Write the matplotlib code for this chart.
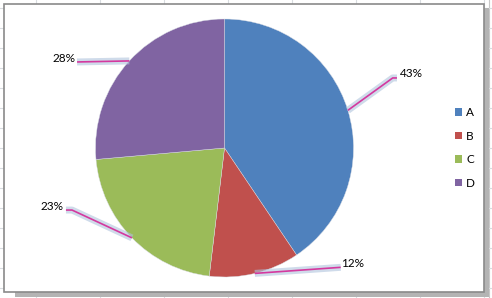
import numpy as np
import matplotlib
matplotlib.use("Agg")
import matplotlib.pyplot as plt
import matplotlib.patheffects as pe
from matplotlib.patches import Rectangle

# ---- data ----
categories = ["A", "B", "C", "D"]
values = [43, 12, 23, 28]
labels = [f"{v}%" for v in values]
colors = ["#4F81BD", "#C0504D", "#9BBB59", "#8064A2"]

# ---- layout (label anchor positions in pie-radius units) ----
# each: (elbow point, end point, text point, ha)
label_layout = [
    ((1.304, 0.543), (1.337, 0.543), (1.36, 0.575), "left"),
    ((0.901, -0.925), (0.901, -0.925), (0.905, -0.895), "left"),
    ((-1.182, -0.481), (-1.229, -0.481), (-1.245, -0.452), "right"),
    ((-1.143, 0.667), (-1.143, 0.667), (-1.152, 0.69), "right"),
]

W, H = 492, 298
fig = plt.figure(figsize=(W / 100, H / 100), dpi=100)
fig.patch.set_facecolor("white")

# background: spreadsheet grid, chart border and shadow
bg = fig.add_axes([0, 0, 1, 1])
bg.set_xlim(0, W)
bg.set_ylim(H, 0)
bg.axis("off")
grid_c = "#D9DCE0"
for x in range(36, W + 1, 64):
    bg.plot([x, x], [0, H], color=grid_c, lw=0.8, zorder=0)
bg.plot([489, 489], [0, H], color="#C8C8C8", lw=0.8, zorder=0)
for y in range(8, H + 1, 20):
    bg.plot([0, W], [y, y], color=grid_c, lw=0.8, zorder=0)
bg.add_patch(Rectangle((15, 8), 474, 289, facecolor="#B4B4B4", edgecolor="none", zorder=1))
bg.add_patch(Rectangle((4, 4), 480, 288, facecolor="white", edgecolor="#8A8A8A", lw=1.2, zorder=2))

# pie axes: centre (224.5, 148) px from top-left, radius 129 px
cx, cy, r = 224.5, 148, 129
ax = fig.add_axes([(cx - r) / W, (H - cy - r) / H, 2 * r / W, 2 * r / H])
wedges, _ = ax.pie(values, colors=colors, startangle=90, counterclock=False,
                   wedgeprops=dict(linewidth=0.3, edgecolor="#D8DCE4"))
ax.set_xlim(-1, 1)
ax.set_ylim(-1, 1)
ax.set_clip_on(False)

font = ["Lato", "DejaVu Sans"]
line_c = "#D4399F"
glow = [pe.Stroke(linewidth=5, foreground="#AFC3DD", alpha=0.6), pe.Normal()]
for w, lab, (elbow, end, tpos, ha) in zip(wedges, labels, label_layout):
    mid = np.deg2rad((w.theta1 + w.theta2) / 2)
    sx, sy = np.cos(mid), np.sin(mid)
    ax.plot([sx, elbow[0], end[0]], [sy, elbow[1], end[1]], color=line_c, lw=1.2,
            solid_capstyle="butt", path_effects=glow, clip_on=False, zorder=5)
    ax.text(tpos[0], tpos[1], lab, ha=ha, va="center", fontsize=8.5,
            family=font, color="black", zorder=6)

leg = fig.legend(wedges, categories, loc="center left",
                 bbox_to_anchor=(455 / W, (H - 148) / H), frameon=False,
                 prop=dict(family=font, size=8.5), handlelength=0.6,
                 handleheight=0.6, handletextpad=0.35, labelspacing=1.05,
                 borderpad=0, borderaxespad=0)
for h in leg.legend_handles:
    h.set_edgecolor("none")

fig.savefig("out.png", dpi=100, facecolor="white")
